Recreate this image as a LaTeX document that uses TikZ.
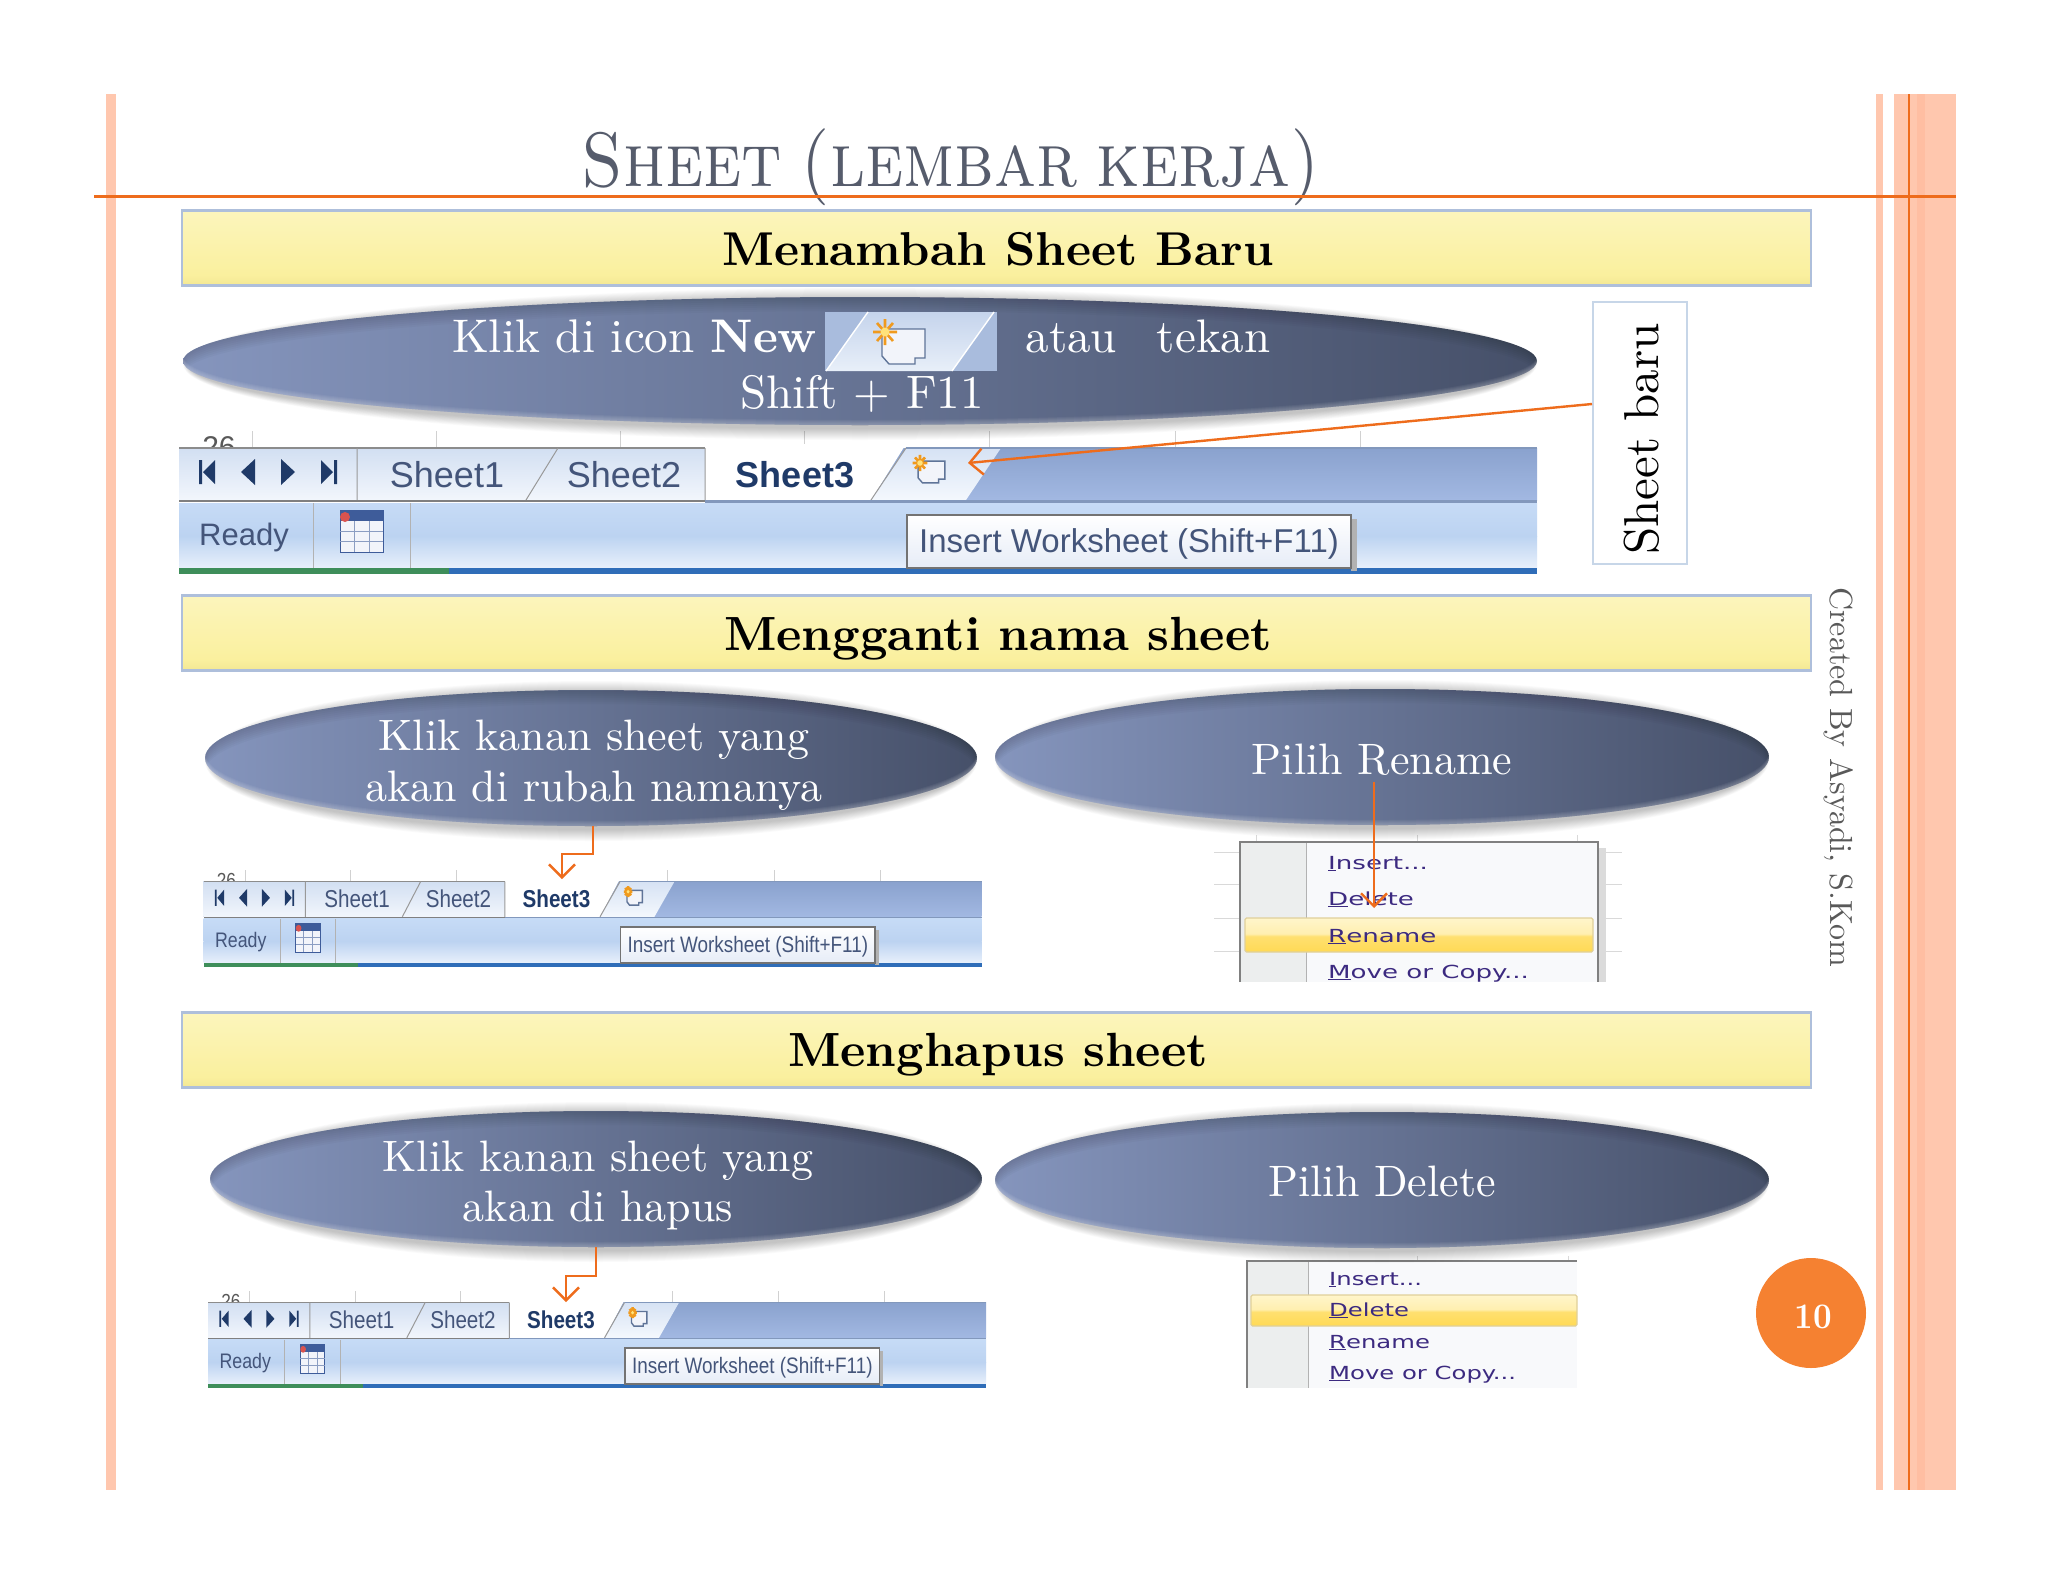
\documentclass[tikz,border=0pt]{standalone}
\usepackage{fontspec}
\usepackage{graphicx}
\usetikzlibrary{shapes.geometric,arrows.meta,calc}
\newfontfamily\uifont{Liberation Sans}
\newfontfamily\menufont{DejaVu Sans}
\newcommand\sz[1]{\fontsize{#1}{#1}\selectfont}
\newcommand\lm[2]{\scalebox{#1}{\fontsize{10}{12}\selectfont #2}}
\newcommand\hexcolor[1]{\definecolor{#1}{HTML}{#1}}
\definecolor{barpeach}{HTML}{FFC7AE}
\definecolor{barpeachd}{HTML}{FFBEA2}
\definecolor{accent}{HTML}{EE6C1C}
\definecolor{titlec}{HTML}{565C6C}
\definecolor{bandedge}{HTML}{AEBFDB}
\definecolor{ellL}{HTML}{8595BD}
\definecolor{ellR}{HTML}{465069}
\definecolor{uitext}{HTML}{44557A}
\definecolor{menutxt}{HTML}{3C2A80}
\hexcolor{D6C76C}\hexcolor{E2D47C}\hexcolor{FAF09E}\hexcolor{FDF8CE}
\hexcolor{FFDF80}\hexcolor{FFD84F}\hexcolor{FFE070}\hexcolor{FFEFB0}\hexcolor{FFFCE8}
\hexcolor{E0D09A}\hexcolor{F2F4FA}\hexcolor{5F7498}\hexcolor{F09A1E}\hexcolor{FFE27A}
\hexcolor{8AA2CE}\hexcolor{A2B8E2}\hexcolor{D2DFF2}\hexcolor{F2F6FC}\hexcolor{D6E2F4}\hexcolor{F4F8FD}
\hexcolor{8298BC}\hexcolor{1F3A68}\hexcolor{C6DBF6}\hexcolor{BCD3F1}\hexcolor{E8F0FB}\hexcolor{2F6DB8}
\hexcolor{3E8E5A}\hexcolor{3E5C9A}\hexcolor{D9534F}\hexcolor{E6ECF7}\hexcolor{ECEEEE}\hexcolor{F8F9FB}
\hexcolor{F58131}\hexcolor{C7D6E8}\hexcolor{A9BCDD}\hexcolor{C5D4EC}\hexcolor{E8EFF9}
\pgfdeclareverticalshading{bandshade}{100bp}{color(0bp)=(D6C76C); color(10bp)=(E2D47C); color(32bp)=(FAF09E); color(100bp)=(FDF8CE)}
\pgfdeclareverticalshading{hlshade}{100bp}{color(0bp)=(FFDF80); color(20bp)=(FFD84F); color(48bp)=(FFE070); color(52bp)=(FFEFB0); color(100bp)=(FFFCE8)}
\tikzset{
 bandbox/.style={draw=bandedge,line width=2.5pt,shading=bandshade,minimum width=1629pt,minimum height=75pt,inner sep=0pt},
 bandtext/.style={anchor=base,text=black,inner sep=0pt},
 elltext/.style={anchor=base,text=white,inner sep=0pt},
 conn/.style={draw=accent,line width=2.4pt,-{Straight Barb[length=13pt,width=26pt,line width=2.4pt]}},
 uit/.style={anchor=base,text=uitext,font=\uifont\sz{36}},
 menuit/.style={anchor=base west,text=menutxt,font=\menufont\sz{18}},
 hl/.style={draw=E0D09A,line width=1.2pt,shading=hlshade,rounded corners=1.5pt,inner sep=0pt},
}
\newcommand\bevelell[5]{%
 \foreach \d in {1,...,12}{\fill[black,opacity=.018] (#2,#3+3) ellipse [x radius=#4-6+\d*.5,y radius=#5+\d*1];}
 \node[shape=ellipse,left color=ellL,right color=ellR,minimum width=2*#4pt,minimum height=2*#5pt,inner sep=0pt] (#1) at (#2,#3) {};
 \begin{scope}
 \clip (#2,#3) ellipse [x radius=#4,y radius=#5];
 \foreach \d in {2,4,...,14}{\fill[black,opacity=.025,even odd rule] (#2-#4,#3-#5) rectangle (#2+#4,#3+#5) (#2,#3+\d) ellipse [x radius=#4,y radius=#5];}
 \foreach \d in {1,...,5}{\fill[white,opacity=.05,even odd rule] (#2-#4,#3-#5) rectangle (#2+#4,#3+#5) (#2,#3-\d) ellipse [x radius=#4,y radius=#5];}
 \end{scope}}
\newcommand\sheeticon[3]{%
 \begin{scope}[shift={(#1,#2)},scale=#3]
 \filldraw[fill=F2F4FA,draw=5F7498,line width=1.4pt] (-3,-3) -- (40,-3) -- (40,26) -- (30,26) -- (30,32) -- (4,32) -- (-3,24) -- cycle;
 \draw[draw=F09A1E,line width=2.6pt] (-12,0) -- (12,0) (0,-13) -- (0,13) (-8,-9) -- (8,9) (-8,9) -- (8,-9);
 \fill[FFE27A] (0,0) circle (4.5);
 \end{scope}}
\newcommand\excelstrip[5]{%
 \begin{scope}[shift={(#2,#3)},xscale=#4,yscale=#5,transform shape]
 \foreach \g in {73,257,441,625,810,996,1181}{\draw[draw=black!18,line width=1pt] (\g,0) -- (\g,17);}
 \begin{scope}\clip (0,0) rectangle (70,17);
  \node[anchor=base,text=black!65,font=\uifont\sz{30},inner sep=0pt] (#1-row) at (40,26) {26};
 \end{scope}
 \shade[top color=8AA2CE,bottom color=A2B8E2] (0,17) rectangle (1358,69);
 \shade[top color=D2DFF2,bottom color=F2F6FC] (0,17) rectangle (526,69);
 \fill[white] (526,13) -- (727,13) -- (692,69) -- (526,69) -- cycle;
 \shade[top color=D6E2F4,bottom color=F4F8FD] (727,17) -- (822,17) -- (787,69) -- (692,69) -- cycle;
 \draw[draw=black!45,line width=1.6pt] (0,17) -- (526,17);
 \draw[draw=8298BC,line width=1.6pt] (727,17) -- (1358,17);
 \draw[draw=black!40,line width=1pt] (178,17) -- (178,69) (379,17) -- (347,69) (526,17) -- (526,69) (727,17) -- (692,69);
 \fill[black!50] (0,69) rectangle (526,71);
 \fill[8298BC] (526,69) rectangle (1358,71.5);
 \fill[1F3A68] (20,29) rectangle (23,53) (24,41) -- (36,29) -- (36,53) -- cycle;
 \fill[1F3A68] (62,41) -- (76,28) -- (76,54) -- cycle (116,41) -- (102,28) -- (102,54) -- cycle;
 \fill[1F3A68] (158,29) rectangle (155,53) (154,41) -- (142,29) -- (142,53) -- cycle;
 \node[uit,inner sep=0pt] (#1-s1) at (268,56) {Sheet1};
 \node[uit,inner sep=0pt] (#1-s2) at (445,56) {Sheet2};
 \node[uit,inner sep=0pt,font=\uifont\bfseries\sz{36},text=1F3A68] (#1-s3) at (616,56) {Sheet3};
 \sheeticon{741}{32}{.62}
 \shade[top color=C6DBF6,bottom color=BCD3F1] (0,72) rectangle (1358,105);
 \shade[top color=BCD3F1,bottom color=E8F0FB] (0,105) rectangle (1358,137);
 \fill[2F6DB8] (270,137) rectangle (1358,143);
 \fill[3E8E5A] (0,137) rectangle (270,143);
 \draw[draw=white!70!black,line width=1pt] (134,72) -- (134,137) (231,72) -- (231,137);
 \node[uit,inner sep=0pt,font=\uifont\sz{31}] (#1-ready) at (65,114) {Ready};
 \filldraw[fill=F2F4FA,draw=3E5C9A,line width=1pt] (161,79) rectangle (204,121);
 \fill[3E5C9A] (161,80) rectangle (204,90);
 \draw[draw=3E5C9A!60,line width=.7pt] (161,100) -- (204,100) (161,110) -- (204,110) (175,90) -- (175,121) (190,90) -- (190,121);
 \fill[D9534F] (166,86) circle (5);
 \fill[black!30] (1172,88) rectangle (1178,140);
 \node[draw=black!55,line width=1.5pt,top color=white,bottom color=E6ECF7,minimum width=444pt,minimum height=53pt,inner sep=0pt] (#1-tip) at (950,110.5) {};
 \node[uit,inner sep=0pt,font=\uifont\sz{33}] (#1-tipt) at (950,121) {Insert Worksheet (Shift+F11)};
 \end{scope}}
\begin{document}
\begin{tikzpicture}[x=1pt,y=-1pt]
\useasboundingbox (0,0) rectangle (2048,1582);
\fill[white] (0,0) rectangle (2048,1582);
\fill[barpeach] (105.5,94) rectangle (116,1490);
\fill[barpeach] (1875.5,94) rectangle (1882.5,1490);
\fill[barpeach] (1894,94) rectangle (1956,1490);
\fill[barpeachd] (1917,94) rectangle (1925,1490);
\draw[draw=accent,line width=2pt] (1909,94) -- (1909,1490);
\node[anchor=base,inner sep=0pt,text=titlec] (title) at (951,186) {\scalebox{.89}[1]{\lm{7.7}{\textsc{Sheet\hspace{-.115em} (lembar\hspace{-.1em} kerja)}}}};
\draw[draw=accent,line width=3pt] (94,196) -- (1956,196);
\node[bandbox] (band1) at (996.5,248) {};
\node[bandtext] (band1t) at (998,265) {\lm{4.75}{\textbf{Menambah Sheet Baru}}};
\node[bandbox] (band2) at (996.5,633) {};
\node[bandtext] (band2t) at (998,650) {\lm{4.8}{\textbf{Mengganti nama sheet}}};
\node[bandbox] (band3) at (996.5,1050) {};
\node[bandtext] (band3t) at (998,1066) {\lm{4.8}{\textbf{Menghapus sheet}}};
\excelstrip{a}{179}{431}{1}{1}
\bevelell{e1}{860}{361}{677}{64}
\node[elltext,anchor=base west] (e1a) at (452,352) {\lm{4.72}{Klik di icon \textbf{New}}};
\fill[A9BCDD] (825,312) rectangle (997,371);
\shade[top color=C5D4EC,bottom color=E8EFF9] (868,312) -- (994,312) -- (952,371) -- (826,371) -- cycle;
\draw[draw=white,line width=1.4pt] (868,312) -- (826,371) (994,312) -- (952,371);
\sheeticon{885}{332}{1}
\node[elltext] (e1b) at (1148,352) {\lm{4.7}{atau\hspace{.85em}tekan}};
\node[elltext] (e1c) at (862,408) {\lm{4.7}{Shift + F11}};
\node[draw=C7D6E8,line width=2pt,fill=white,minimum width=94pt,minimum height=262pt,inner sep=0pt] (sb) at (1640,433) {};
\node[anchor=base,rotate=90,inner sep=0pt,text=black] (sbt) at (1658,439) {\lm{4.9}{Sheet baru}};
\coordinate (t1) at (968,463);
\draw[conn] ([yshift=29pt]sb.west) -- (t1);
\excelstrip{b}{203.5}{870}{.573}{.678}
\bevelell{e2}{591}{758}{386}{68}
\node[elltext] (e2a) at (594,750) {\lm{4.4}{Klik kanan sheet yang}};
\node[elltext] (e2b) at (594,801) {\lm{4.4}{akan di rubah namanya}};
\coordinate (a2) at (562,854);
\coordinate (t2) at (562,879);
\draw[conn] ([xshift=2pt]e2.south) |- (a2) -- (t2);
\foreach \g in {852,884,918,951}{\draw[draw=black!15,line width=1pt] (1214,\g) -- (1622,\g);}
\foreach \g in {1256,1417,1577}{\draw[draw=black!15,line width=1pt] (\g,835) -- (\g,842);}
\fill[black!14] (1598,848) rectangle (1606,982);
\fill[F8F9FB] (1240,842) rectangle (1598,982);
\fill[ECEEEE] (1241,843) rectangle (1306,982);
\draw[draw=black!50,line width=1.2pt] (1240,982) -- (1240,842) -- (1598,842) -- (1598,982);
\draw[draw=black!30,line width=1pt] (1306,843) -- (1306,982);
\node[hl,minimum width=348pt,minimum height=34pt] (m1hl) at (1419,935) {};
\node[menuit,inner sep=0pt] (m1a) at (1328,869) {\scalebox{1.45}[1]{\underline{I}nsert...}};
\node[menuit,inner sep=0pt] (m1b) at (1328,905) {\scalebox{1.45}[1]{\underline{D}elete}};
\node[menuit,inner sep=0pt] (m1c) at (1328,942) {\scalebox{1.45}[1]{\underline{R}ename}};
\node[menuit,inner sep=0pt] (m1d) at (1328,978) {\scalebox{1.45}[1]{\underline{M}ove or Copy...}};
\bevelell{e3}{1382}{757}{387}{68}
\node[elltext] (e3a) at (1382,774) {\lm{4.4}{Pilih Rename}};
\coordinate (s3) at (1374,782);
\coordinate (t3) at (1374,908);
\draw[conn] (s3) -- (t3);
\excelstrip{c}{208}{1291}{.573}{.678}
\bevelell{e4}{596}{1179}{386}{68}
\node[elltext] (e4a) at (598,1171) {\lm{4.4}{Klik kanan sheet yang}};
\node[elltext] (e4b) at (598,1221) {\lm{4.4}{akan di hapus}};
\coordinate (a4) at (566,1276);
\coordinate (t4) at (566,1302);
\draw[conn] (e4.south) |- (a4) -- (t4);
\foreach \g in {1417,1568}{\draw[draw=black!15,line width=1pt] (\g,1256) -- (\g,1261);}
\fill[F8F9FB] (1247,1261) rectangle (1577,1388);
\fill[ECEEEE] (1248,1262) rectangle (1308,1388);
\draw[draw=black!50,line width=1.2pt] (1247,1388) -- (1247,1261) -- (1577,1261);
\draw[draw=black!30,line width=1pt] (1308,1262) -- (1308,1388);
\node[hl,minimum width=326pt,minimum height=31pt] (m2hl) at (1414,1310.5) {};
\node[menuit,inner sep=0pt] (m2a) at (1329,1285) {\scalebox{1.35}[1]{\underline{I}nsert...}};
\node[menuit,inner sep=0pt] (m2b) at (1329,1316) {\scalebox{1.35}[1]{\underline{D}elete}};
\node[menuit,inner sep=0pt] (m2c) at (1329,1348) {\scalebox{1.35}[1]{\underline{R}ename}};
\node[menuit,inner sep=0pt] (m2d) at (1329,1379) {\scalebox{1.35}[1]{\underline{M}ove or Copy...}};
\bevelell{e5}{1382}{1180}{387}{68}
\node[elltext] (e5a) at (1382,1196) {\lm{4.4}{Pilih Delete}};
\node[anchor=base,rotate=-90,inner sep=0pt,text=black!65] (created) at (1830,777) {\lm{3.2}{Created By Asyadi, S.Kom}};
\node[shape=circle,fill=F58131,minimum size=110pt,inner sep=0pt] (page) at (1811,1313) {};
\node[anchor=base,inner sep=0pt,text=white] (pagen) at (1813,1328) {\scalebox{.9}[1]{\lm{3.6}{\textbf{10}}}};
\end{tikzpicture}
\end{document}
